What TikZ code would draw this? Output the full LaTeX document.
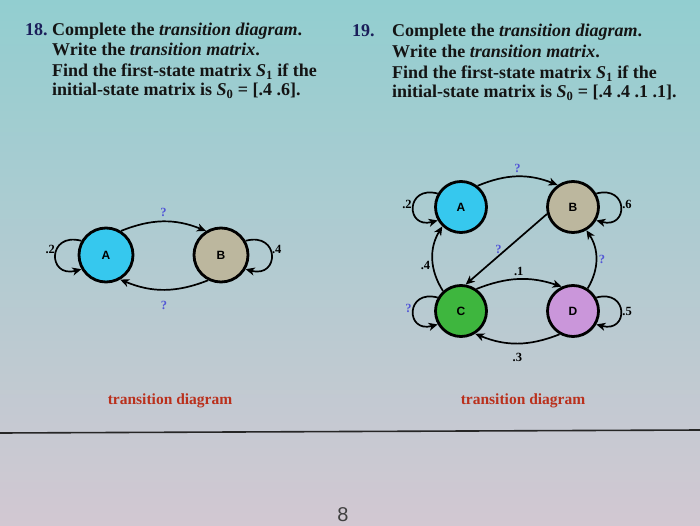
\documentclass[tikz,border=0pt]{standalone}
\usepackage{fontspec}
\setmainfont{Liberation Serif}
\setsansfont{Liberation Sans}
\usetikzlibrary{arrows.meta}
\definecolor{bgtop}{RGB}{146,206,208}
\definecolor{bgmid}{RGB}{198,221,225}
\definecolor{bgbot}{RGB}{210,200,210}
\definecolor{stA}{RGB}{54,200,238}
\definecolor{stB}{RGB}{188,183,158}
\definecolor{stC}{RGB}{62,182,62}
\definecolor{stD}{RGB}{202,150,218}
\definecolor{qblue}{RGB}{82,86,214}
\definecolor{capred}{RGB}{186,48,28}
\definecolor{numnavy}{RGB}{26,30,90}
\tikzset{
  state/.style={circle,draw=black,line width=2.8pt,minimum size=54pt,inner sep=0pt,
    font=\sffamily\bfseries\fontsize{12}{12}\selectfont},
  small/.style={minimum size=51pt},
  tr/.style={line width=1.7pt,-{Stealth[length=9pt,width=8pt,inset=2.5pt]}},
  prob/.style={font=\bfseries\fontsize{12.5}{12.5}\selectfont,inner sep=0pt},
  ask/.style={prob,text=qblue},
  txtline/.style={anchor=base west,inner sep=0pt,font=\bfseries\fontsize{18}{18}\selectfont,text=black!92}
}
\begin{document}
\begin{tikzpicture}[x=1pt,y=1pt]
	\useasboundingbox (0,0) rectangle (700,525);
	\fill[top color=bgtop,middle color=bgmid,bottom color=bgbot] (0,0) rectangle (700,525);
	% questions
	\node[txtline,text=numnavy] (n18) at (25,489) {18.};
	\node[txtline] (q18a) at (52,489) {Complete the \textit{transition diagram}.};
	\node[txtline] (q18b) at (52,469) {Write the \textit{transition matrix}.};
	\node[txtline] (q18c) at (52,448) {Find the first-state matrix \textit{S}\textsubscript{1} if the};
	\node[txtline] (q18d) at (52,429) {initial-state matrix is \textit{S}\textsubscript{0} = [.4 .6].};
	\node[txtline,text=numnavy] (n19) at (352,488) {19.};
	\node[txtline] (q19a) at (392,488) {Complete the \textit{transition diagram}.};
	\node[txtline] (q19b) at (392,467) {Write the \textit{transition matrix}.};
	\node[txtline] (q19c) at (392,446) {Find the first-state matrix \textit{S}\textsubscript{1} if the};
	\node[txtline] (q19d) at (392,427) {initial-state matrix is \textit{S}\textsubscript{0} = [.4 .4 .1 .1].};
	% two states
	\node[state,fill=stA] (a1) at (106,270) {A};
	\node[state,fill=stB] (b1) at (221,270) {B};
	\draw[tr] (a1.58) to[bend left=22] node[ask,above=4pt] (qab1) {?} (b1.122);
	\draw[tr] (b1.243) to[bend left=22] node[ask,below=11pt] (qba1) {?} (a1.300);
	\draw[tr] (a1.150) to[out=165,in=195,looseness=3.2] node[prob,pos=0.4,left=1pt] (paa1) {.2} (a1.210);
	\draw[tr] (b1.30) to[out=15,in=-15,looseness=3.2] node[prob,pos=0.4,right=1pt] (pbb1) {.4} (b1.-30);
	% four states
	\node[state,small,fill=stA] (a2) at (461,318) {A};
	\node[state,small,fill=stB] (b2) at (573,318) {B};
	\node[state,small,fill=stC] (c2) at (461,214) {C};
	\node[state,small,fill=stD] (d2) at (573,214) {D};
	\draw[tr] (a2.52) to[bend left=22] node[ask,above=3pt] (qab2) {?} (b2.125);
	\draw[tr] (b2.195) -- node[ask,left=4pt] (qbc2) {?} (c2.80);
	\draw[tr] (c2.132) to[bend left=32] node[prob,pos=0.4,left=2pt] (pca2) {.4} (a2.226);
	\draw[tr] (c2.55) to[bend left=20] node[prob,above=3pt] (pcd2) {.1} (d2.115);
	\draw[tr] (d2.57) to[bend right=32] node[ask,right=2pt] (qdb2) {?} (b2.300);
	\draw[tr] (d2.240) to[bend left=22] node[prob,below=9pt] (pdc2) {.3} (c2.302);
	\draw[tr] (a2.150) to[out=165,in=195,looseness=3.2] node[prob,pos=0.46,left=1pt] (paa2) {.2} (a2.210);
	\draw[tr] (b2.30) to[out=15,in=-15,looseness=3.2] node[prob,pos=0.46,right=1pt] (pbb2) {.6} (b2.-30);
	\draw[tr] (c2.150) to[out=165,in=195,looseness=3.2] node[ask,pos=0.46,left=1pt] (qcc2) {?} (c2.210);
	\draw[tr] (d2.30) to[out=15,in=-15,looseness=3.2] node[prob,pos=0.5,right=1pt] (pdd2) {.5} (d2.-30);
	% captions and page foot
	\node[anchor=base,inner sep=0pt,font=\bfseries\fontsize{15.5}{15.5}\selectfont,text=capred] (cap1) at (170,121) {transition diagram};
	\node[anchor=base,inner sep=0pt,font=\bfseries\fontsize{15.5}{15.5}\selectfont,text=capred] (cap2) at (523,121) {transition diagram};
	\coordinate (rl) at (0,92);
	\coordinate (rr) at (700,95);
	\draw[line width=1.6pt,black!85] (rl) -- (rr);
	\node[inner sep=0pt,font=\sffamily\fontsize{20}{20}\selectfont,text=black!75] (pg) at (343,10.5) {8};
\end{tikzpicture}
\end{document}
